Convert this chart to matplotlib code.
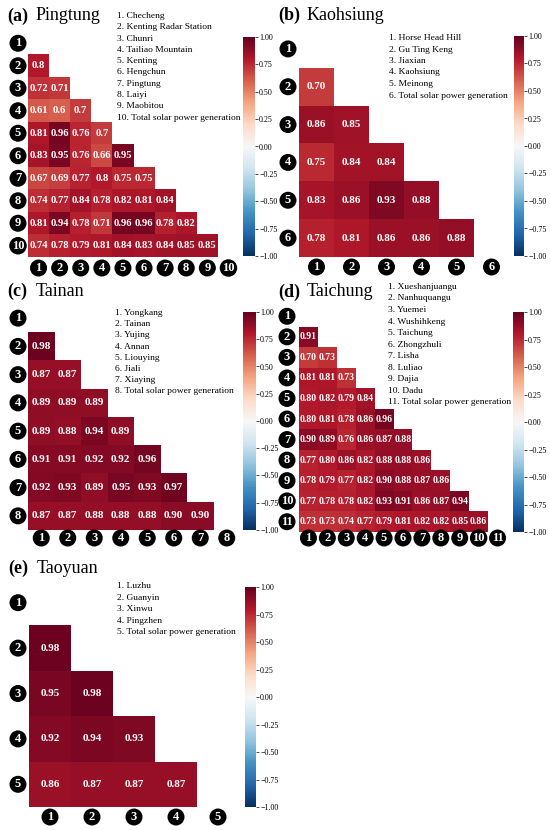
import numpy as np
import matplotlib.pyplot as plt
import matplotlib.transforms as mtransforms
from matplotlib.ticker import FuncFormatter
import seaborn as sns

plt.rcParams['font.family'] = ['Liberation Serif', 'DejaVu Serif']

# station names and lower-triangle correlations (row i holds columns 1..i-1)
pingtung_names = ['Checheng', 'Kenting Radar Station', 'Chunri', 'Tailiao Mountain', 'Kenting',
                  'Hengchun', 'Pingtung', 'Laiyi', 'Maobitou', 'Total solar power generation']
pingtung_corr = [[0.8],
                 [0.72, 0.71],
                 [0.61, 0.6, 0.7],
                 [0.81, 0.96, 0.76, 0.7],
                 [0.83, 0.95, 0.76, 0.66, 0.95],
                 [0.67, 0.69, 0.77, 0.8, 0.75, 0.75],
                 [0.74, 0.77, 0.84, 0.78, 0.82, 0.81, 0.84],
                 [0.81, 0.94, 0.78, 0.71, 0.96, 0.96, 0.78, 0.82],
                 [0.74, 0.78, 0.79, 0.81, 0.84, 0.83, 0.84, 0.85, 0.85]]

kaohsiung_names = ['Horse Head Hill', 'Gu Ting Keng', 'Jiaxian', 'Kaohsiung', 'Meinong',
                   'Total solar power generation']
kaohsiung_corr = [[0.70],
                  [0.86, 0.85],
                  [0.75, 0.84, 0.84],
                  [0.83, 0.86, 0.93, 0.88],
                  [0.78, 0.81, 0.86, 0.86, 0.88]]

tainan_names = ['Yongkang', 'Tainan', 'Yujing', 'Annan', 'Liouying', 'Jiali', 'Xiaying',
                'Total solar power generation']
tainan_corr = [[0.98],
               [0.87, 0.87],
               [0.89, 0.89, 0.89],
               [0.89, 0.88, 0.94, 0.89],
               [0.91, 0.91, 0.92, 0.92, 0.96],
               [0.92, 0.93, 0.89, 0.95, 0.93, 0.97],
               [0.87, 0.87, 0.88, 0.88, 0.88, 0.90, 0.90]]

taichung_names = ['Xueshanjuangu', 'Nanhuquangu', 'Yuemei', 'Wushihkeng', 'Taichung',
                  'Zhongzhuli', 'Lisha', 'Luliao', 'Dajia', 'Dadu', 'Total solar power generation']
taichung_corr = [[0.91],
                 [0.70, 0.73],
                 [0.81, 0.81, 0.73],
                 [0.80, 0.82, 0.79, 0.84],
                 [0.80, 0.81, 0.78, 0.86, 0.96],
                 [0.90, 0.89, 0.76, 0.86, 0.87, 0.88],
                 [0.77, 0.80, 0.86, 0.82, 0.88, 0.88, 0.86],
                 [0.78, 0.79, 0.77, 0.82, 0.90, 0.88, 0.87, 0.86],
                 [0.77, 0.78, 0.78, 0.82, 0.93, 0.91, 0.86, 0.87, 0.94],
                 [0.73, 0.73, 0.74, 0.77, 0.79, 0.81, 0.82, 0.82, 0.85, 0.86]]

taoyuan_names = ['Luzhu', 'Guanyin', 'Xinwu', 'Pingzhen', 'Total solar power generation']
taoyuan_corr = [[0.98],
                [0.95, 0.98],
                [0.92, 0.94, 0.93],
                [0.86, 0.87, 0.87, 0.87]]

W, H = 550, 830
fig = plt.figure(figsize=(W / 100, H / 100), dpi=100)


def box(x0, y0, x1, y1):
    # pixel rectangle (top-left origin) -> figure fraction
    return [x0 / W, 1 - y1 / H, (x1 - x0) / W, (y1 - y0) / H]


def full_matrix(rows):
    n = len(rows) + 1
    m = np.eye(n)
    for i, r in enumerate(rows, start=1):
        for j, v in enumerate(r):
            m[i, j] = v
            m[j, i] = v
    return m


def circled(ax, n, ydx, xdy):
    circ = dict(boxstyle='circle,pad=0.2', fc='black', ec='none')
    kw = dict(color='white', fontsize=9, weight='bold', ha='center', va='center', bbox=circ)
    ty = ax.get_yaxis_transform() + mtransforms.ScaledTranslation(-ydx / 100, 0, fig.dpi_scale_trans)
    tx = ax.get_xaxis_transform() + mtransforms.ScaledTranslation(0, -xdy / 100, fig.dpi_scale_trans)
    for i in range(n):
        ax.text(0, i + 0.5, str(i + 1), transform=ty, **kw)
        ax.text(i + 0.5, 0, str(i + 1), transform=tx, **kw)


def panel(letter, region, names, rows, fmt, asize, heat, cbar, title_y, leg_x, leg_y, leg_step,
          ydx, xdy):
    m = full_matrix(rows)
    n = len(m)
    mask = np.triu(np.ones_like(m, dtype=bool))
    ax = fig.add_axes(box(*heat))
    cax = fig.add_axes(box(*cbar))
    sns.heatmap(m, mask=mask, cmap='RdBu_r', vmin=-1, vmax=1, annot=True, fmt=fmt,
                annot_kws=dict(size=asize, weight='bold', color='white'),
                ax=ax, cbar_ax=cax, xticklabels=False, yticklabels=False)
    ax.tick_params(length=0)
    circled(ax, n, ydx, xdy)

    cb = ax.collections[0].colorbar
    cb.set_ticks(np.arange(-1, 1.01, 0.25))
    cb.ax.yaxis.set_major_formatter(FuncFormatter(lambda v, p: f'{v:.2f}'.replace('-', '\u2212')))
    cb.ax.tick_params(labelsize=5.8, length=2, width=0.5, pad=1)
    cb.outline.set_linewidth(0)

    x0 = heat[0] - 21
    fig.text(x0 / W, 1 - title_y / H, f'({letter})', fontsize=13, weight='bold', va='center')
    fig.text((x0 + 29) / W, 1 - title_y / H, region, fontsize=13, va='center')
    for i, name in enumerate(names):
        fig.text(leg_x / W, 1 - (leg_y + i * leg_step) / H, f'{i + 1}. {name}',
                 fontsize=6.8, va='center')


panel('a', 'Pingtung', pingtung_names, pingtung_corr, 'g', 7.6,
      (28, 32, 239, 257), (243, 37, 255, 256), 16, 117, 16, 11.3, 10, 11)
panel('b', 'Kaohsiung', kaohsiung_names, kaohsiung_corr, '.2f', 8,
      (299, 30, 509, 257), (514, 36, 524, 256), 15, 389, 38, 11.5, 11, 10)
panel('c', 'Tainan', tainan_names, tainan_corr, '.2f', 8,
      (28, 304, 240, 530), (243, 312, 256, 530), 291, 115, 313, 11.2, 10, 8)
panel('d', 'Taichung', taichung_names, taichung_corr, '.2f', 7,
      (299, 306, 507, 532), (513, 312, 524, 532), 292, 388, 287, 11.5, 12, 6)
panel('e', 'Taoyuan', taoyuan_names, taoyuan_corr, '.2f', 8,
      (29, 580, 239, 807), (245, 587, 256, 807), 568, 117, 586, 11.5, 11, 10)

fig.savefig('out.png', dpi=100)
